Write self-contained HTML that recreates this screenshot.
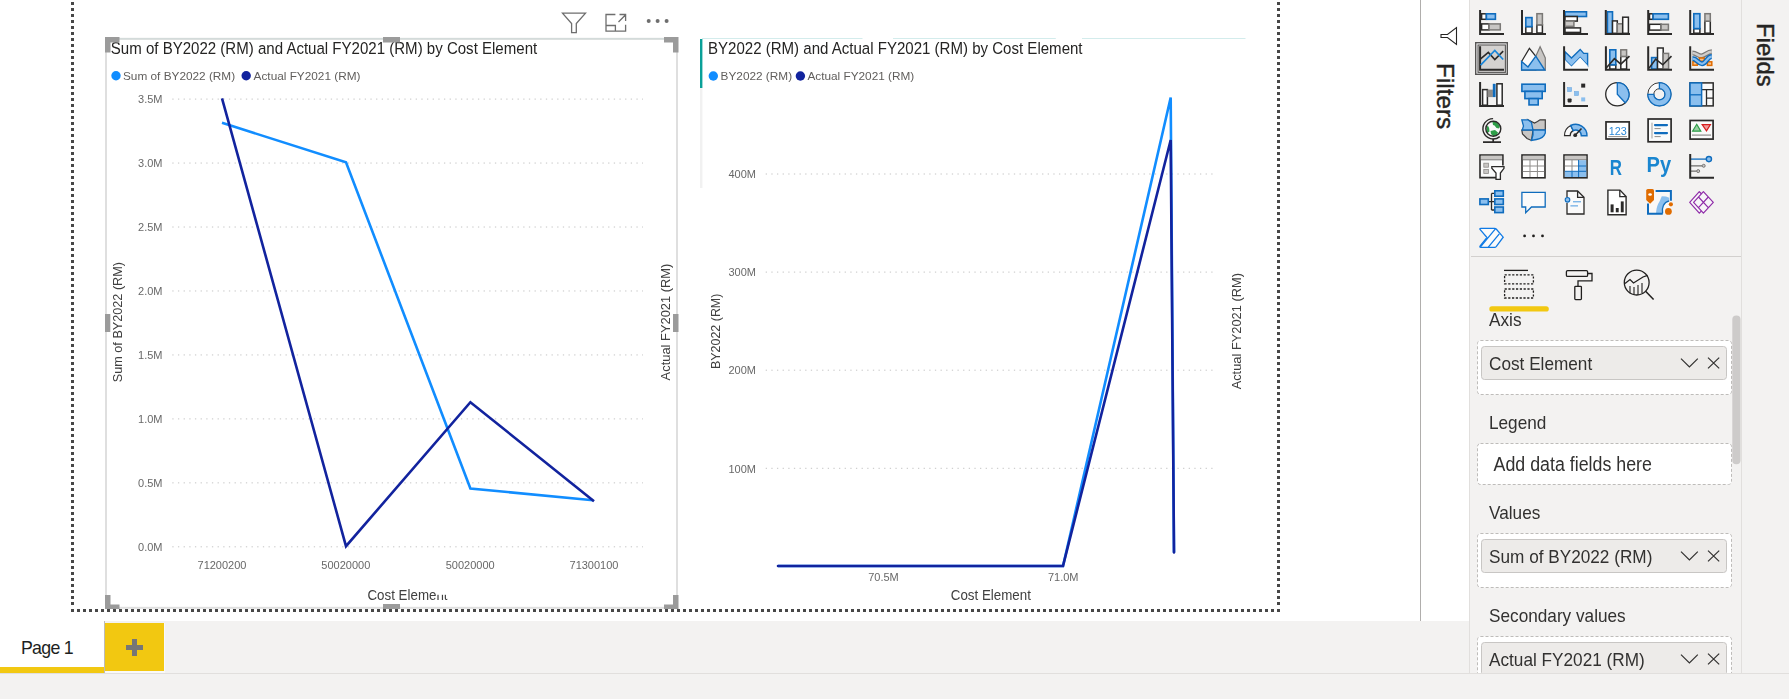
<!DOCTYPE html>
<html><head><meta charset="utf-8">
<style>
*{margin:0;padding:0;box-sizing:border-box}
html,body{width:1789px;height:699px;overflow:hidden;background:#fff;font-family:"Liberation Sans",sans-serif}
.abs{position:absolute}
#canvas{left:0;top:0;width:1420px;height:621px;background:#fff}
#filters{left:1420px;top:0;width:49px;height:621px;background:#fff;border-left:1px solid #b0aeac}
#tabs{left:0;top:621px;width:1469px;height:52px;background:#f3f2f1}
#viz{left:1469px;top:0;width:273px;height:673px;background:#f3f2f1;border-left:1px solid #e1dfdd;border-right:1px solid #e1dfdd}
#fields{left:1742px;top:0;width:47px;height:673px;background:#f3f2f1}
#status{left:0;top:673px;width:1789px;height:26px;background:#f3f2f1;border-top:1px solid #e1dfdd}
.vt{position:absolute;white-space:nowrap;transform-origin:0 0;transform:rotate(90deg)}
.lbl{position:absolute;left:20px;font-size:17px;color:#323130;white-space:nowrap}
.well{position:absolute;left:8px;width:255px;border:1px dashed #c8c6c4;border-radius:3px;background:#fff}
.pill{position:absolute;left:4px;width:245px;height:34px;background:#edebe9;border:1px solid #c8c6c4;border-radius:3px;font-size:17px;color:#323130;line-height:31px;padding-left:7px;white-space:nowrap}
</style></head>
<body>
<div id="canvas" class="abs" style="will-change:transform">
<svg width="1420" height="621" viewBox="0 0 1420 621" style="position:absolute;left:0;top:0" font-family="Liberation Sans, sans-serif">
  <!-- page boundary dotted -->
  <g stroke="#474747" stroke-width="3" stroke-dasharray="3 3">
    <line x1="72.5" y1="2" x2="72.5" y2="608"/>
    <line x1="1278.5" y1="2" x2="1278.5" y2="608"/>
    <line x1="71" y1="610.5" x2="1280" y2="610.5"/>
  </g>

  <!-- ============ CHART 1 ============ -->
  <g id="chart1">
    <rect x="106" y="38.8" width="571" height="569" fill="#fff" stroke="#dfdfdf" stroke-width="2"/>
    <line x1="107" y1="38.7" x2="676" y2="38.7" stroke="#d3dbda" stroke-width="1.6"/>
    <!-- header icons -->
    <g fill="none" stroke="#6e6e6e" stroke-width="1.3">
      <path d="M562.5 13.2 H585.5 L576.3 23.6 V32.6 H571.6 V23.6 Z"/>
      <path d="M615.4 14.5 H606 V31.2 H625.6 V24.8 M606 25.5 H615.4 V31.2 M618.5 22 L625.4 15 M619.5 14.5 H625.6 V21"/>
    </g>
    <g fill="#6e6e6e"><circle cx="648.7" cy="20.9" r="2"/><circle cx="657.6" cy="20.9" r="2"/><circle cx="666.6" cy="20.9" r="2"/></g>
    <text transform="translate(110.8 53.8) scale(1 1.06)" font-size="15.05" fill="#252423">Sum of BY2022 (RM) and Actual FY2021 (RM) by Cost Element</text>
    <circle cx="116" cy="75.8" r="4.7" fill="#118dff"/>
    <text x="123" y="79.5" font-size="11.8" fill="#605e5c">Sum of BY2022 (RM)</text>
    <circle cx="246.2" cy="75.8" r="4.7" fill="#12239e"/>
    <text x="253.6" y="79.5" font-size="11.8" fill="#605e5c">Actual FY2021 (RM)</text>
    <!-- gridlines -->
    <g stroke="#c4c4c4" stroke-width="1" stroke-dasharray="1.3 4.36">
      <line x1="172.3" y1="99.10" x2="643" y2="99.10"/>
      <line x1="172.3" y1="163.06" x2="643" y2="163.06"/>
      <line x1="172.3" y1="227.02" x2="643" y2="227.02"/>
      <line x1="172.3" y1="290.98" x2="643" y2="290.98"/>
      <line x1="172.3" y1="354.94" x2="643" y2="354.94"/>
      <line x1="172.3" y1="418.90" x2="643" y2="418.90"/>
      <line x1="172.3" y1="482.86" x2="643" y2="482.86"/>
      <line x1="172.3" y1="546.82" x2="643" y2="546.82"/>
    </g>
    <g font-size="11" fill="#686868" text-anchor="end">
      <text x="162.5" y="103.4">3.5M</text>
      <text x="162.5" y="167.4">3.0M</text>
      <text x="162.5" y="231.4">2.5M</text>
      <text x="162.5" y="295.4">2.0M</text>
      <text x="162.5" y="359.4">1.5M</text>
      <text x="162.5" y="423.4">1.0M</text>
      <text x="162.5" y="487.4">0.5M</text>
      <text x="162.5" y="551.4">0.0M</text>
    </g>
    <g font-size="11" fill="#686868" text-anchor="middle">
      <text x="222" y="568.7">71200200</text>
      <text x="345.8" y="568.7">50020000</text>
      <text x="470.2" y="568.7">50020000</text>
      <text x="594" y="568.7">71300100</text>
    </g>
    <text transform="translate(407.5 599.9) scale(1 1.07)" font-size="13.35" fill="#404040" text-anchor="middle">Cost Element</text>
    <rect x="436.4" y="586" width="12.5" height="8.8" fill="#fff"/>
    <text transform="translate(121.6 322.1) rotate(-90)" font-size="12.65" fill="#404040" text-anchor="middle">Sum of BY2022 (RM)</text>
    <text transform="translate(669.5 322) rotate(-90)" font-size="12.9" fill="#404040" text-anchor="middle">Actual FY2021 (RM)</text>
    <polyline points="222,122.8 346,162.3 470.4,488.5 593,500.3" fill="none" stroke="#118dff" stroke-width="2.6" stroke-linejoin="miter"/>
    <polyline points="222,98.3 346,546.2 470.4,402.2 594,501.2" fill="none" stroke="#12239e" stroke-width="2.6" stroke-linejoin="miter"/>
    <!-- handles -->
    <g fill="#9b9b9b">
      <path d="M105 37 H119.5 V42.5 H110.5 V52.5 H105 Z"/>
      <path d="M678.5 37 H664 V42.5 H673 V52.5 H678.5 Z"/>
      <path d="M105 609 H119.5 V604.5 H110.5 V595 H105 Z"/>
      <path d="M678.5 609 H664 V604.5 H673 V595 H678.5 Z"/>
      <rect x="383" y="37" width="17" height="5.5"/>
      <rect x="383" y="604" width="17" height="5"/>
      <rect x="105" y="314" width="5.3" height="18"/>
      <rect x="673" y="314" width="5.5" height="18"/>
    </g>
  </g>

  <!-- ============ CHART 2 ============ -->
  <g id="chart2">
    <path d="M702 38.5 H862.5 M893 38.5 H1055.8 M1082 38.5 H1245.5" stroke="#d3ecec" stroke-width="1"/>
    <rect x="700" y="39" width="2.4" height="49" fill="#0aa098"/>
    <rect x="700" y="88" width="2.4" height="100" fill="#f1f1f1"/>
    <text transform="translate(708 54) scale(1 1.06)" font-size="15.05" fill="#252423">BY2022 (RM) and Actual FY2021 (RM) by Cost Element</text>
    <circle cx="713.3" cy="76" r="4.7" fill="#118dff"/>
    <text x="720.6" y="79.7" font-size="11.8" fill="#605e5c">BY2022 (RM)</text>
    <circle cx="800.4" cy="76" r="4.7" fill="#12239e"/>
    <text x="807.4" y="79.7" font-size="11.8" fill="#605e5c">Actual FY2021 (RM)</text>
    <g stroke="#c4c4c4" stroke-width="1" stroke-dasharray="1.3 4.34">
      <line x1="765.7" y1="174.00" x2="1213" y2="174.00"/>
      <line x1="765.7" y1="272.10" x2="1213" y2="272.10"/>
      <line x1="765.7" y1="370.20" x2="1213" y2="370.20"/>
      <line x1="765.7" y1="468.30" x2="1213" y2="468.30"/>
    </g>
    <g font-size="11" fill="#686868" text-anchor="end">
      <text x="756" y="178">400M</text>
      <text x="756" y="276">300M</text>
      <text x="756" y="374.3">200M</text>
      <text x="756" y="472.6">100M</text>
    </g>
    <g font-size="11" fill="#686868" text-anchor="middle">
      <text x="883.5" y="581">70.5M</text>
      <text x="1063.2" y="581">71.0M</text>
    </g>
    <text transform="translate(990.8 599.9) scale(1 1.07)" font-size="13.35" fill="#404040" text-anchor="middle">Cost Element</text>
    <text transform="translate(719.9 331.3) rotate(-90)" font-size="12.45" fill="#404040" text-anchor="middle">BY2022 (RM)</text>
    <text transform="translate(1241.4 331.2) rotate(-90)" font-size="12.85" fill="#404040" text-anchor="middle">Actual FY2021 (RM)</text>
    <polyline points="778,566 1063,566 1170.7,97.5 1174,552.5" fill="none" stroke="#118dff" stroke-width="2.6" stroke-linejoin="miter"/>
    <polyline points="778,566 1063,566 1170.7,140 1174,552.5" fill="none" stroke="#12239e" stroke-width="2.6" stroke-linejoin="miter" stroke-linecap="round"/>
  </g>
</svg>
</div>

<div id="filters" class="abs">
  <svg class="abs" style="left:19px;top:26px" width="19" height="20" viewBox="0 0 19 20"><path d="M1 8.5 H7.5 L16.5 1.5 V18.5 L7.5 11.5 H1 Z" fill="none" stroke="#252423" stroke-width="1.1"/></svg>
  <div class="vt" style="left:38px;top:63px;transform:rotate(90deg);font-size:24.3px;-webkit-text-stroke:0.4px #252423;color:#252423">Filters</div>
</div>

<div id="tabs" class="abs">
  <div class="abs" style="left:0;top:0;width:104px;height:52px;background:#fff"></div>
  <div class="abs" style="left:0;top:46px;width:104px;height:6px;background:#f2c811"></div>
  <div class="abs" style="left:104px;top:0;width:1px;height:52px;background:#bdbbb8"></div>
  <div class="abs" style="left:105px;top:2px;width:60px;height:50px;background:#f9f9f9"></div>
  <div class="abs" style="left:105px;top:2px;width:59px;height:48px;background:#f2c811"></div>
  <div class="abs" style="left:126px;top:24.3px;width:17px;height:4.4px;background:#767676"></div>
  <div class="abs" style="left:132.2px;top:18px;width:4.6px;height:16.5px;background:#767676"></div>
  <div class="abs" style="left:21px;top:16.5px;font-size:17.8px;letter-spacing:-0.75px;color:#201f1e;white-space:nowrap">Page 1</div>
</div>

<div id="viz" class="abs" style="will-change:transform">
<svg class="abs" style="left:-1px;top:0" width="273" height="673" viewBox="1469 0 273 673">
<defs>
<style>
.ax{fill:none;stroke:#2b2a29;stroke-width:2}
.bl{fill:#8bbfee;stroke:#0f6cbd;stroke-width:1.6}
.gy{fill:#c8c6c4;stroke:#7a7876;stroke-width:1.5}
.wh{fill:#fff;stroke:#2b2a29;stroke-width:1.5}
.ln{fill:none;stroke:#2b2a29;stroke-width:1.6}
.lb{fill:none;stroke:#1a86d9;stroke-width:1.7}
</style>
</defs>
<!-- Row 1 -->
<!-- 1 stacked bar -->
<rect class="wh" x="1481.6" y="13.8" width="4.8" height="5.5"/><rect class="bl" x="1486.4" y="13.8" width="9" height="5.5"/>
<rect class="wh" x="1481.6" y="23.9" width="7.5" height="6"/><rect class="gy" x="1489.1" y="23.9" width="11.2" height="6"/>
<path class="ax" d="M1480.1 10 V34 H1504"/>
<!-- 2 stacked column -->
<rect class="wh" x="1525.8" y="26.6" width="6.2" height="6.4"/><rect class="bl" x="1525.8" y="17.6" width="6.2" height="9"/>
<rect class="wh" x="1536.9" y="24.8" width="5.5" height="8.2"/><rect class="gy" x="1536.9" y="13.7" width="5.5" height="11.1"/>
<path class="ax" d="M1522 10 V34 H1546"/>
<!-- 3 clustered bar -->
<rect class="bl" x="1565" y="11.8" width="21.5" height="4.7"/>
<rect class="wh" x="1565" y="16.5" width="12.3" height="4.6"/>
<rect class="gy" x="1565" y="21.1" width="8.9" height="5.2"/>
<rect class="wh" x="1565" y="27.9" width="15.5" height="4.5"/>
<path class="ax" d="M1564 10 V34 H1588"/>
<!-- 4 clustered column -->
<rect class="bl" x="1607.4" y="11.8" width="5.1" height="21.5"/>
<rect class="wh" x="1612.5" y="20.9" width="4.8" height="12.4"/>
<rect class="gy" x="1617.3" y="23.8" width="5.4" height="9.5"/>
<rect class="wh" x="1622.7" y="17.2" width="5.7" height="16.1"/>
<path class="ax" d="M1605.8 10 V34 H1630"/>
<!-- 5 100% stacked bar -->
<rect class="wh" x="1649.5" y="13.8" width="3.6" height="5.5"/><rect class="bl" x="1653.1" y="13.8" width="15.3" height="5.5"/>
<rect class="wh" x="1649.5" y="24.3" width="11.6" height="5.8"/><rect class="gy" x="1661.1" y="24.3" width="7.3" height="5.8"/>
<path class="ax" d="M1648.2 10 V34 H1672"/>
<!-- 6 100% stacked col -->
<rect class="wh" x="1693.8" y="28.6" width="6.1" height="4.6"/><rect class="bl" x="1693.8" y="13.7" width="6.1" height="14.9"/>
<rect class="wh" x="1704.9" y="21.1" width="5.4" height="12.1"/><rect class="gy" x="1704.9" y="13.7" width="5.4" height="7.4"/>
<path class="ax" d="M1690.2 10 V34 H1714"/>

<!-- Row 2 -->
<!-- 7 line chart selected -->
<rect x="1475.7" y="42.7" width="31.6" height="31.6" fill="#f4f4f4" stroke="#555453" stroke-width="1.4"/>
<rect x="1478" y="45" width="27.4" height="27.4" fill="#d4d2d0" stroke="#5b5a59" stroke-width="1.1"/>
<path class="ax" d="M1480.1 46.2 V69.7 H1504"/>
<polyline points="1480.6,58.8 1488.3,52.4 1494.8,59.5 1503.2,51.1" class="ln"/>
<polyline points="1480.6,65.2 1494.8,50.4 1503.2,59.5" class="lb"/>
<!-- 8 area chart -->
<polygon points="1521.6,61.5 1529.4,48.4 1535.8,56.3 1535.8,70 1521.6,70" fill="#fafafa" stroke="#2b2a29" stroke-width="1.2"/>
<polygon points="1535.8,56.3 1540.1,46.8 1545.3,58 1545.3,70 1535.8,70" fill="#c8c6c4" stroke="#7a7876" stroke-width="1.2"/>
<polygon points="1521.6,61.5 1528,67 1535.8,56.2 1544.8,70 1521.6,70" fill="#8bbfee" stroke="#0f6cbd" stroke-width="1.4"/>
<!-- 9 stacked area -->
<polygon points="1565,51.7 1571.5,58.1 1580.2,49.4 1583.7,53.4 1587.6,53.4 1587.6,65.5 1580.2,57.6 1571.5,66.5 1565,60.1" fill="#8bbfee" stroke="#0f6cbd" stroke-width="1.4"/>
<polygon points="1565,60.1 1571.5,66.5 1580.2,57.6 1587.6,65.5 1587.6,69 1565,69" fill="#fafafa"/>
<path class="ax" d="M1564.1 46.2 V69.7 H1588"/>
<!-- 10 line and stacked column -->
<rect class="wh" x="1609.8" y="64.8" width="6" height="4.3"/><rect class="bl" x="1609.8" y="49.8" width="6" height="15"/>
<rect class="wh" x="1620.8" y="56.4" width="5.8" height="12.7"/><rect class="gy" x="1620.8" y="49.8" width="5.8" height="6.6"/>
<polyline points="1606,68.2 1614.4,58.7 1620.8,64.2 1629.5,56.1" class="ln"/>
<path class="ax" d="M1605.9 46.2 V69.7 H1630"/>
<!-- 11 line and clustered column -->
<rect class="bl" x="1651.6" y="57.6" width="5.9" height="11.5"/>
<rect class="wh" x="1657.5" y="48" width="5.7" height="21.1"/>
<rect class="gy" x="1663.2" y="53.4" width="5.4" height="15.7"/>
<polyline points="1649,68.2 1655.7,59.1 1662.8,64.8 1671.5,56.1" class="ln"/>
<path class="ax" d="M1648.2 46.2 V69.7 H1672"/>
<!-- 12 ribbon -->
<path d="M1692.4 53 C1696.5 53 1698 56 1701.2 56 C1705 56 1707 51.8 1711.8 51.8" fill="none" stroke="#7a7876" stroke-width="5"/>
<path d="M1692.4 53 C1696.5 53 1698 56 1701.2 56 C1705 56 1707 51.8 1711.8 51.8" fill="none" stroke="#cfcdcb" stroke-width="2.4"/>
<rect x="1692.9" y="61.6" width="4.4" height="3.6" fill="#f5c18c" stroke="#e06c00" stroke-width="1.5"/>
<rect x="1699.3" y="58" width="5" height="3.2" fill="#f5c18c" stroke="#e06c00" stroke-width="1.5"/>
<rect x="1707.4" y="61.8" width="4.4" height="3.6" fill="#f5c18c" stroke="#e06c00" stroke-width="1.5"/>
<path d="M1692.4 58.6 C1697 58.6 1698 63.8 1702 63.8 C1706 63.8 1707 56.6 1711.8 56.6" fill="none" stroke="#0f6cbd" stroke-width="5"/>
<path d="M1692.4 58.6 C1697 58.6 1698 63.8 1702 63.8 C1706 63.8 1707 56.6 1711.8 56.6" fill="none" stroke="#8bbfee" stroke-width="2.2"/>
<path class="ax" d="M1690.2 46.2 V69.7 H1714"/>

<!-- Row 3 -->
<!-- 13 waterfall -->
<rect class="wh" x="1482.6" y="89.6" width="4.8" height="15.6"/>
<rect x="1487.4" y="89.6" width="5.5" height="7.5" fill="#8f8d8b"/>
<rect x="1492.8" y="83.8" width="2.8" height="13.3" fill="#0f6cbd"/>
<rect class="wh" x="1496.9" y="83.8" width="5.3" height="21.4"/>
<path class="ax" d="M1480.1 82 V106 H1504"/>
<!-- 14 funnel -->
<rect class="bl" x="1521.9" y="84.2" width="23.3" height="7.2"/>
<rect class="bl" x="1524.9" y="91.4" width="17.3" height="7.2"/>
<rect class="bl" x="1529" y="98.6" width="9.2" height="6.3"/>
<!-- 15 scatter -->
<rect x="1581.2" y="83.6" width="4" height="4" fill="#2b2a29"/>
<rect x="1567.6" y="87.6" width="4" height="4" fill="#8bbfee" stroke="#6fa9e0" stroke-width="0.6"/>
<rect x="1574.5" y="91.5" width="4" height="4" fill="#8bbfee" stroke="#6fa9e0" stroke-width="0.6"/>
<rect x="1581.2" y="97.4" width="4" height="4" fill="#8bbfee"/>
<rect x="1567.6" y="98.4" width="4" height="4" fill="#2b2a29" rx="0.8"/>
<path class="ax" d="M1564.1 82 V106 H1588"/>
<!-- 16 pie -->
<circle cx="1617.3" cy="94.3" r="11.6" fill="#fafafa" stroke="#2b2a29" stroke-width="1.3"/>
<path d="M1617.3 94.3 V82.7 A11.6 11.6 0 0 1 1625.2 102.8 Z" fill="#8bbfee" stroke="#0f6cbd" stroke-width="1.3"/>
<!-- 17 donut -->
<circle cx="1659.4" cy="94.3" r="8.6" fill="none" stroke="#fafafa" stroke-width="6"/>
<circle cx="1659.4" cy="94.3" r="11.6" fill="none" stroke="#3b3a39" stroke-width="1"/>
<circle cx="1659.4" cy="94.3" r="5.6" fill="none" stroke="#3b3a39" stroke-width="1"/>
<path d="M1659.4 82.7 A11.6 11.6 0 1 1 1647.8 94.3 H1653.8 A5.6 5.6 0 1 0 1659.4 88.7 Z" fill="#8bbfee" stroke="#0f6cbd" stroke-width="1.3"/>
<!-- 18 treemap -->
<rect x="1690" y="82.9" width="23.2" height="23" fill="#fafafa" stroke="#2b2a29" stroke-width="1.5"/>
<path d="M1701.6 89.6 H1713 M1706.5 89.6 V105.5 M1706.5 98.1 H1713" stroke="#2b2a29" stroke-width="1.3" fill="none"/>
<rect x="1690" y="82.9" width="11.6" height="23" fill="#8bbfee" stroke="#0f6cbd" stroke-width="1.5"/>
<path d="M1690 94.8 H1701.6" stroke="#0f6cbd" stroke-width="1.3"/>

<!-- Row 4 -->
<!-- 19 globe -->
<circle cx="1493.3" cy="128.8" r="7.5" fill="#fafafa"/>
<path d="M1492.5 122 C1495.5 121.2 1498.5 123 1499.8 126.5 L1499 128.5 L1496.5 128 L1494.5 125.5 L1493 125 Z M1487.2 126 C1486 128.5 1486.2 131 1487.5 133 L1489.5 131.5 L1489.2 128.5 L1488.5 126.5 Z M1490.5 131 L1495 130 L1498 132.5 L1497 135 L1493.5 136.3 L1491 134 Z" fill="#2e9e48"/>
<circle cx="1493.3" cy="128.8" r="7.5" fill="none" stroke="#2b2a29" stroke-width="1.4"/>
<path d="M1493.1 118.6 A10.2 10.2 0 1 0 1499.7 136.6" fill="none" stroke="#2b2a29" stroke-width="1.4"/>
<path d="M1493.2 138.8 V141.5 M1483 142.1 H1501" stroke="#2b2a29" stroke-width="1.7" fill="none"/>
<!-- 20 filled map -->
<path d="M1528 119.8 L1534.5 123 L1537.5 121.5 L1540 119.8 H1545.3 V130 L1533 130 Z" fill="#c8c6c4" stroke="#3b3a39" stroke-width="1.2"/>
<path d="M1521.8 130 H1533 L1531.5 140.5 L1527 138.5 L1522.5 134 Z" fill="#c8c6c4" stroke="#3b3a39" stroke-width="1.2"/>
<path d="M1521.8 119.8 H1528 L1531.5 122.5 L1533 130 H1522.2 L1523.5 126 Z" fill="#8bbfee" stroke="#0f6cbd" stroke-width="1.3"/>
<path d="M1533 130 H1545.3 V133 C1544 137 1540 139 1536.5 139.5 L1531.5 140.5 L1533 135 Z" fill="#8bbfee" stroke="#0f6cbd" stroke-width="1.3"/>
<!-- 21 gauge -->
<path d="M1564.5 135.7 A11.3 11.3 0 0 1 1570.7 125.5 L1573.2 130.6 A5.6 5.6 0 0 0 1570.2 135.7 Z" fill="#fafafa" stroke="#2b2a29" stroke-width="1.2"/>
<path d="M1570.7 125.5 A11.3 11.3 0 0 1 1587 135.7 H1581.3 A5.6 5.6 0 0 0 1573.2 130.6 Z" fill="#8bbfee" stroke="#0f6cbd" stroke-width="1.4"/>
<path d="M1574.5 136 L1581.5 128.5" stroke="#2b2a29" stroke-width="1.5"/>
<circle cx="1575.2" cy="135.2" r="1.9" fill="#2b2a29"/>
<!-- 22 card -->
<rect x="1606" y="121.9" width="23.2" height="17.1" fill="#fff" stroke="#2b2a29" stroke-width="1.7"/>
<text x="1617.7" y="135" font-size="11.5" fill="#2b88d8" text-anchor="middle" font-family="Liberation Sans" textLength="18" lengthAdjust="spacingAndGlyphs">123</text>
<path d="M1608.2 136.6 H1627" stroke="#8f8d8b" stroke-width="1"/>
<!-- 23 multi-row card -->
<rect x="1648.1" y="119" width="23" height="22.8" fill="#fafafa" stroke="#2b2a29" stroke-width="1.7"/>
<path d="M1652 122.7 V138.5" stroke="#a19f9d" stroke-width="1"/>
<path d="M1655 125.1 H1667 M1655 133.1 H1667" stroke="#0f6cbd" stroke-width="2.2" stroke-linecap="round"/>
<path d="M1654.5 128.6 H1660.7 M1654.5 136.6 H1660.7" stroke="#8f8d8b" stroke-width="1"/>
<!-- 24 KPI -->
<rect x="1690.1" y="120.5" width="23" height="18.6" fill="#fafafa" stroke="#2b2a29" stroke-width="1.7"/>
<polygon points="1696.7,124.3 1700.8,131.2 1692.6,131.2" fill="#9ad0a4" stroke="#2e9e48" stroke-width="1.2"/>
<polygon points="1702.2,124.6 1710.4,124.6 1706.5,130.8" fill="#f19a9a" stroke="#d61e1e" stroke-width="1.2"/>
<path d="M1692 135.1 H1711" stroke="#8f8d8b" stroke-width="1.2"/>

<!-- Row 5 -->
<!-- 25 slicer -->
<path d="M1499.5 177.6 H1480 V155 H1502.9 V165.6" fill="#fafafa" stroke="#2b2a29" stroke-width="1.6"/>
<rect x="1480.8" y="155.8" width="21.3" height="3.7" fill="#c8c6c4"/>
<path d="M1480.8 159.8 H1502.1" stroke="#5b5a59" stroke-width="0.8"/>
<rect x="1483.8" y="163.2" width="4.6" height="4" fill="#c8c6c4" stroke="#8f8d8b" stroke-width="0.8"/>
<rect x="1483.8" y="169.5" width="4.6" height="4" fill="#c8c6c4" stroke="#8f8d8b" stroke-width="0.8"/>
<path d="M1491.8 166.6 H1504 V168.3 L1500.4 173 V179.3 H1496 V173 L1491.8 168.3 Z" fill="#fff" stroke="#2b2a29" stroke-width="1.3"/>
<!-- 26 table -->
<rect x="1522" y="155" width="23" height="22.8" fill="#fff" stroke="#2b2a29" stroke-width="1.6"/>
<rect x="1522.8" y="155.8" width="21.4" height="3.7" fill="#c8c6c4"/>
<path d="M1522.8 159.8 H1544.2" stroke="#5b5a59" stroke-width="0.8"/>
<path d="M1522.8 166 H1544.2 M1522.8 171.5 H1544.2 M1530 160 V177 M1537.4 160 V177" stroke="#8f8d8b" stroke-width="1"/>
<!-- 27 matrix -->
<rect x="1564" y="155" width="23" height="22.8" fill="#fff" stroke="#2b2a29" stroke-width="1.6"/>
<rect x="1564.8" y="155.8" width="21.4" height="3.7" fill="#c8c6c4"/>
<path d="M1564.8 159.8 H1586.2" stroke="#5b5a59" stroke-width="0.8"/>
<rect x="1578.6" y="160.2" width="7.6" height="16.8" fill="#8bbfee"/>
<rect x="1564.8" y="171.5" width="21.4" height="5.5" fill="#8bbfee"/>
<path d="M1564.8 166 H1578.6 M1572 160 V171" stroke="#8f8d8b" stroke-width="1"/>
<path d="M1564.8 171.3 H1586.2 M1578.6 160 V177 M1572 171.5 V177 M1578.6 166 H1586.2" stroke="#0f6cbd" stroke-width="1"/>
<!-- 28 R -->
<text x="1609.8" y="174.8" font-size="22.6" font-weight="bold" fill="#1a86d0" font-family="Liberation Sans" textLength="12.2" lengthAdjust="spacingAndGlyphs">R</text>
<!-- 29 Py -->
<text x="1646.6" y="172" font-size="22.6" font-weight="bold" fill="#1a86d0" font-family="Liberation Sans" textLength="24.6" lengthAdjust="spacingAndGlyphs">Py</text>
<!-- 30 key influencers -->
<path d="M1691 159.1 H1707" stroke="#0f6cbd" stroke-width="1.3"/>
<circle cx="1708.9" cy="159.1" r="2.6" fill="#8bbfee" stroke="#0f6cbd" stroke-width="1.4"/>
<path d="M1691 165.8 H1702.3 M1691 171.1 H1696.8" stroke="#6e6c6a" stroke-width="1.2"/>
<circle cx="1703.7" cy="165.8" r="1.5" fill="#c8c6c4" stroke="#6e6c6a" stroke-width="0.9"/>
<circle cx="1698.2" cy="171.1" r="1.5" fill="#c8c6c4" stroke="#6e6c6a" stroke-width="0.9"/>
<path class="ax" d="M1690.2 154 V177.7 H1714"/>

<!-- Row 6 -->
<!-- 31 decomposition -->
<path d="M1488.8 201.7 H1491.5 M1491.5 193.4 V210 M1491.5 193.4 H1494.3 M1491.5 201.7 H1494.3 M1491.5 210 H1494.3" stroke="#2b2a29" stroke-width="1.3" fill="none"/>
<rect class="bl" x="1479.9" y="198.9" width="8.4" height="5.6"/>
<rect class="bl" x="1494.8" y="190.8" width="8.5" height="5.4"/>
<rect class="bl" x="1494.8" y="198.9" width="8.5" height="5.6"/>
<rect class="bl" x="1494.8" y="207" width="8.5" height="5.6"/>
<!-- 32 Q&A -->
<path d="M1521.9 192.3 H1545.2 V207 H1531.5 L1525.7 212.8 V207 H1521.9 Z" fill="#fafafa" stroke="#0f6cbd" stroke-width="1.3"/>
<!-- 33 smart narrative -->
<path d="M1567 197.5 V191 H1577.6 L1584 197.3 V214 H1567 V203" fill="#fafafa" stroke="#2b2a29" stroke-width="1.3"/>
<path d="M1577.6 191 V197.3 H1584" fill="none" stroke="#2b2a29" stroke-width="1.3"/>
<circle cx="1567.5" cy="199.8" r="2.3" fill="#8bbfee" stroke="#0f6cbd" stroke-width="1.1"/>
<path d="M1573 201.8 H1581 M1570.4 205.9 H1578" stroke="#4a9ae0" stroke-width="1"/>
<!-- 34 paginated -->
<path d="M1607.9 190.1 H1620 L1626.1 196.5 V214.8 H1607.9 Z" fill="#fff" stroke="#2b2a29" stroke-width="1.4"/>
<path d="M1619.8 190.1 V196.7 H1626.1" fill="none" stroke="#2b2a29" stroke-width="1.3"/>
<rect x="1610.6" y="204.4" width="3" height="7.9" fill="#2b2a29"/>
<rect x="1615.8" y="208" width="2.9" height="4.3" fill="#2b2a29"/>
<rect x="1620.8" y="201.4" width="2.9" height="10.9" fill="#2b2a29"/>
<!-- 35 azure map -->
<rect x="1648" y="191" width="22.8" height="22.8" fill="#fbf8f6"/>
<path d="M1661.8 196.3 L1666 196.6 L1669.2 197.8 L1669.2 200.8 C1666.5 201.5 1664.5 203 1663.4 205.5 C1662.2 208 1662 210.5 1662.6 213.5 L1656 213.5 C1656.3 210 1656.8 206.5 1658.2 203.8 C1659.8 201.5 1660.5 199 1661.8 196.3 Z" fill="#8bbfee"/>
<path d="M1669.2 200.8 C1666.5 201.5 1664.5 203 1663.4 205.5 C1662.2 208 1662 210.5 1662.6 213.5" fill="none" stroke="#0f6cbd" stroke-width="1.3"/>
<path d="M1655.6 191 H1670.9 V200.8 M1662.7 213.8 H1648 V203.6" fill="none" stroke="#0f6cbd" stroke-width="2"/>
<path d="M1646.2 190.6 Q1646.2 189 1647.8 189 H1652.4 Q1654 189 1654 190.6 V200 L1650.1 203.8 L1646.2 200 Z" fill="#e06c00"/>
<ellipse cx="1650.1" cy="194.5" rx="1.8" ry="1.3" fill="#fff"/>
<circle cx="1668.4" cy="211.4" r="3.4" fill="#e06c00"/>
<circle cx="1670.9" cy="204.3" r="2.1" fill="#e06c00"/>
<!-- 36 power apps -->
<path d="M1699.3 191.7 L1689.7 202.3 L1699.3 213.2 L1702.5 209.8 L1696.5 202.3 L1702.5 194.8 Z" fill="#f7f5f8" stroke="#8f2ba8" stroke-width="1.2" stroke-linejoin="round"/>
<path d="M1703.4 191.7 L1713.3 202.3 L1703.4 213.2 L1693.6 202.3 Z M1698.5 197 L1708.3 207.6 M1708.3 197 L1698.5 207.6" fill="#f7f5f8" stroke="#8f2ba8" stroke-width="1.2" stroke-linejoin="round"/>

<!-- Row 7 -->
<path d="M1480.8 228.4 H1494.6 Q1495.6 228.4 1496.2 229 L1503.2 237.2 L1496.2 246.6 Q1495.6 247.3 1494.6 247.3 H1480.8 Q1479.2 247.3 1480.2 246 L1487 237.5 L1480.2 229.6 Q1479.2 228.4 1480.8 228.4 Z" fill="#fafafa" stroke="#0f7ae5" stroke-width="1.3"/>
<path d="M1495.4 228.8 L1480.5 246.8 M1499.3 233.8 L1488.3 247.2" stroke="#0f7ae5" stroke-width="1.3"/>
<circle cx="1524.6" cy="235.9" r="1.4" fill="#201f1e"/>
<circle cx="1533.5" cy="235.9" r="1.4" fill="#201f1e"/>
<circle cx="1542.5" cy="235.9" r="1.4" fill="#201f1e"/>

<!-- separator -->
<path d="M1471 256.5 H1741" stroke="#d2d0ce" stroke-width="1"/>

<!-- tab icons -->
<path d="M1504 270.4 H1528" stroke="#201f1e" stroke-width="1.3"/>
<rect x="1504.6" y="274.8" width="28.8" height="9" fill="none" stroke="#201f1e" stroke-width="1.3" stroke-dasharray="2.2 1.6"/>
<rect x="1504.6" y="289" width="28.8" height="9" fill="none" stroke="#201f1e" stroke-width="1.3" stroke-dasharray="2.2 1.6"/>
<rect x="1566.4" y="270.6" width="21.2" height="5.8" rx="1.2" fill="none" stroke="#201f1e" stroke-width="1.3"/>
<path d="M1587.6 273.5 H1592 V280.8 H1578 V286.3" fill="none" stroke="#201f1e" stroke-width="1.3"/>
<rect x="1574.8" y="286.3" width="6.6" height="13.3" rx="0.8" fill="none" stroke="#201f1e" stroke-width="1.3"/>
<circle cx="1636.7" cy="282.6" r="12.4" fill="none" stroke="#201f1e" stroke-width="1.3"/>
<path d="M1645.6 291.3 L1653.6 299.6" stroke="#201f1e" stroke-width="1.5"/>
<path d="M1625 283.5 L1630 279.5 L1633.5 283 L1643 277 L1647.5 275.3" fill="none" stroke="#201f1e" stroke-width="1.3"/>
<path d="M1630 286 V293 M1634 287 V295 M1638 285 V295 M1642 283 V293" stroke="#201f1e" stroke-width="1.1"/>
<rect x="1489.3" y="306.3" width="59.5" height="5.2" rx="2.6" fill="#f2c811"/>
</svg>
<svg class="abs" style="left:-1px;top:0" width="273" height="673" viewBox="1469 0 273 673" font-family="Liberation Sans, sans-serif">
<g font-size="17.2" fill="#323130">
<text transform="translate(1489 325.6) scale(1 1.09)">Axis</text>
<text transform="translate(1489 429.1) scale(1 1.09)">Legend</text>
<text transform="translate(1489 519.2) scale(1 1.09)">Values</text>
<text transform="translate(1489 622.1) scale(1 1.09)">Secondary values</text>
</g>
<g fill="#fff" stroke="#bebcba" stroke-width="1" stroke-dasharray="3 2">
<rect x="1477.5" y="340.5" width="254" height="54" rx="3"/>
<rect x="1477.5" y="443.5" width="254" height="41" rx="3"/>
<rect x="1477.5" y="533.5" width="254" height="54" rx="3"/>
<rect x="1477.5" y="636.5" width="254" height="54" rx="3"/>
</g>
<g fill="#edebe9" stroke="#c8c6c4" stroke-width="1">
<rect x="1481.5" y="346.5" width="245" height="33" rx="3"/>
<rect x="1481.5" y="539.5" width="245" height="33" rx="3"/>
<rect x="1481.5" y="642.5" width="245" height="33" rx="3"/>
</g>
<g font-size="17.2" fill="#323130">
<text transform="translate(1489 370.2) scale(1 1.09)">Cost Element</text>
<text transform="translate(1493.6 471.1) scale(1 1.09)" font-size="17.8">Add data fields here</text>
<text transform="translate(1489 563.1) scale(1 1.09)">Sum of BY2022 (RM)</text>
<text transform="translate(1489 665.8) scale(1 1.09)">Actual FY2021 (RM)</text>
</g>
<g fill="none" stroke="#323130" stroke-width="1.2">
<path d="M1681 358.6 L1689.4 367 L1697.8 358.6"/>
<path d="M1708 357.6 L1719.2 368.4 M1719.2 357.6 L1708 368.4"/>
<path d="M1681 551.6 L1689.4 560 L1697.8 551.6"/>
<path d="M1708 550.6 L1719.2 561.4 M1719.2 550.6 L1708 561.4"/>
<path d="M1681 654.6 L1689.4 663 L1697.8 654.6"/>
<path d="M1708 653.6 L1719.2 664.4 M1719.2 653.6 L1708 664.4"/>
</g>
<rect x="1732.3" y="315.4" width="8.2" height="148.8" rx="4" fill="#cdcbca"/>
</svg>
</div>

<div id="fields" class="abs">
  <div class="vt" style="left:37px;top:23px;transform:rotate(90deg);font-size:23.9px;-webkit-text-stroke:0.4px #252423;color:#252423">Fields</div>
</div>
<div id="status" class="abs"></div>
</body></html>
